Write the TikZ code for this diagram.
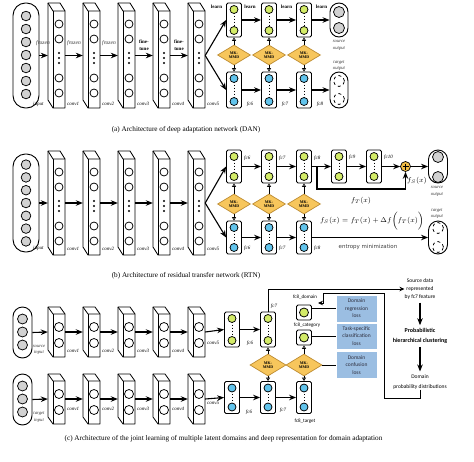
\documentclass[tikz,border=0pt]{standalone}
\usepackage{fontspec}
\setmainfont{Liberation Serif}
\newfontfamily\calib{Carlito}
\newfontfamily\djv{DejaVu Sans}
\usetikzlibrary{arrows.meta,shapes.geometric,calc}
\definecolor{ingray}{RGB}{210,210,210}
\definecolor{lgreen}{RGB}{212,236,104}
\definecolor{lblue}{RGB}{98,196,236}
\definecolor{dfill}{RGB}{247,198,92}
\definecolor{dline}{RGB}{190,140,50}
\definecolor{lossfill}{RGB}{155,190,226}
\definecolor{losstext}{RGB}{45,45,60}
\definecolor{plusfill}{RGB}{242,190,70}

\newcommand{\convbox}[5]{%
  \pgfmathsetmacro\cbh{#4-#3}%
  \pgfmathsetmacro\cbc{(#3+#4)/2}%
  \pgfmathsetmacro\cbx{#2+8.5}%
  \node[inner sep=0pt, minimum width=17pt, minimum height=\cbh pt] (#1) at (\cbx,\cbc) {};
  \draw[convline, fill=white] (#2,#3) -- ++(12,0) -- ++(5,#5) -- (#2+17,#4) -- ++(-12,0) -- ++(-5,-#5) -- cycle;
  \draw[convline] (#2,#3) -- ++(5,#5) -- ++(12,0);
  \draw[convline] (#2+5,#3+#5) -- (#2+5,#4);
}
\newcommand{\fcbox}[5]{%
  \node[fcb, minimum height=#4pt] (#1) at (#2,#3) {};
  \pgfmathsetmacro\fcoff{#4/2-6.5}%
  \draw[dotted, line width=1pt] (#2,#3-\fcoff) -- (#2,#3+\fcoff);
  \draw[circ, fill=#5] (#2,#3-\fcoff) circle (4pt);
  \draw[circ, fill=#5] (#2,#3+\fcoff) circle (4pt);
}

\tikzset{
  convline/.style={line width=0.8pt, line join=round},
  circ/.style={draw, line width=0.75pt, fill=white},
  capsule/.style={draw, line width=0.9pt, fill=white, inner sep=0pt},
  fcb/.style={draw, line width=0.8pt, rounded corners=1.5pt, fill=white, inner sep=0pt, minimum width=15pt},
  mmd/.style={diamond, draw=dline, fill=dfill, line width=0.7pt, inner sep=0pt, minimum width=33pt, minimum height=20pt, font=\fontsize{4}{4.6}\selectfont\bfseries, align=center},
  arr/.style={-{Stealth[length=7pt,width=5.5pt]}, line width=1.1pt},
  arrl/.style={-{Stealth[length=5pt,width=4.5pt]}, line width=0.8pt},
  tri/.style={-{Triangle[open,length=3.5pt,width=4pt]}, line width=0.7pt},
  lab/.style={font=\fontsize{5}{6}\selectfont\itshape, inner sep=0pt},
  labi/.style={font=\fontsize{5.5}{6}\selectfont\itshape, inner sep=0pt, text=black!80},
  labb/.style={font=\fontsize{5}{6.5}\selectfont\bfseries, inner sep=0pt, align=center},
  labo/.style={font=\fontsize{4.7}{6.5}\selectfont\itshape, inner sep=0pt, align=center, text=black!80},
  capt/.style={font=\fontsize{7.2}{8}\selectfont, inner sep=0pt},
  mathl/.style={font=\fontsize{7}{8}\selectfont, inner sep=0pt},
  sans/.style={font=\calib\fontsize{5.5}{8}\selectfont, inner sep=0pt, align=center},
  lossbox/.style={fill=lossfill, draw=white, line width=0.8pt, minimum width=41pt, inner sep=0pt, align=center, font=\calib\fontsize{5.5}{7.6}\selectfont, text=losstext},
  cfont/.style={font=\calib\fontsize{5}{6}\selectfont, inner sep=0pt},
}

\begin{document}
\begin{tikzpicture}[x=1pt,y=-1pt]
\fill[white] (0,0) rectangle (474,461);
\useasboundingbox (0,0) rectangle (474,461);

%%%%%%%%%%%%%%%% (a) DAN
\node[capsule, minimum width=26pt, minimum height=105pt, rounded corners=12.5pt] (ain) at (26,55.5) {};
\foreach \i in {0,...,6} \draw[circ, fill=ingray] (26,16+13*\i) circle (4.8pt);
\node[lab, anchor=west] (ainl) at (33,104) {input};
\foreach \n/\x in {1/48,2/83,3/118,4/153,5/188}{
  \convbox{a\n}{\x}{3}{108}{8}
  \foreach \yy in {24,39,78,93} \draw[circ] (\x+11,\yy) circle (4pt);
  \foreach \yy in {53,58,63} \fill (\x+11,\yy) circle (1.2pt);
  \node[lab, anchor=west] (a\n lab) at (\x+19,104) {conv\n};
}
\draw[arr] (ain.east) -- (a1.west);
\foreach \p/\q in {1/2,2/3,3/4,4/5} \draw[arr] (a\p.east) -- (a\q.west);
\node[labi] (fz1) at (43,43) {frozen};
\node[labi] (fz2) at (74,43) {frozen};
\node[labi] (fz3) at (109,43) {frozen};
\node[labb] (ft1) at (144,45.5) {fine-\\tune};
\node[labb] (ft2) at (179,45.5) {fine-\\tune};

\fcbox{a6g}{234}{20}{34}{lgreen}
\fcbox{a7g}{269}{20}{34}{lgreen}
\fcbox{a8g}{304}{20}{34}{lgreen}
\fcbox{a6b}{234}{90}{36}{lblue}
\fcbox{a7b}{269}{90}{36}{lblue}
\fcbox{a8b}{304}{90}{36}{lblue}
\node[capsule, minimum width=18pt, minimum height=34pt, rounded corners=9pt] (aso) at (339,20) {};
\draw[circ, fill=ingray] (339,12) circle (5.5pt);
\draw[circ, fill=ingray] (339,28) circle (5.5pt);
\node[capsule, minimum width=18pt, minimum height=36pt, rounded corners=9pt] (ato) at (339,90) {};
\draw[circ, dashed] (339,81) circle (5.5pt);
\draw[circ, dashed] (339,99) circle (5.5pt);
\node[mmd] (am1) at (234,55) {MK-\\MMD};
\node[mmd] (am2) at (269,55) {MK-\\MMD};
\node[mmd] (am3) at (304,55) {MK-\\MMD};
\draw[arr] (a5.east) -- (a6g.west);
\draw[arr] (a5.east) -- (a6b.west);
\draw[arr] (a6g) -- (a7g);
\draw[arr] (a7g) -- (a8g);
\draw[arr] (a8g) -- (aso);
\draw[arr] (a6b) -- (a7b);
\draw[arr] (a7b) -- (a8b);
\draw[arr] (a8b) -- (ato);
\draw[tri] (am1.north) -- (a6g.south);
\draw[tri] (am1.south) -- (a6b.north);
\draw[tri] (am2.north) -- (a7g.south);
\draw[tri] (am2.south) -- (a7b.north);
\draw[tri] (am3.north) -- (a8g.south);
\draw[tri] (am3.south) -- (a8b.north);
\node[labb] (le1) at (216.5,7) {learn};
\node[labb] (le2) at (250,7) {learn};
\node[labb] (le3) at (286.5,7) {learn};
\node[labb] (le4) at (321.5,7) {learn};
\node[lab] (af6) at (250,104) {fc6};
\node[lab] (af7) at (285,104) {fc7};
\node[lab] (af8) at (320,104) {fc8};
\node[labo] (asol) at (339,45.5) {source\\output};
\node[labo] (atol) at (339,65.5) {target\\output};
\node[capt] (capa) at (186,130) {(a) Architecture of deep adaptation network (DAN)};

%%%%%%%%%%%%%%%% (b) RTN
\node[capsule, minimum width=26pt, minimum height=98pt, rounded corners=12.5pt] (bin) at (26,203) {};
\foreach \i in {0,...,6} \draw[circ, fill=ingray] (26,164.6+12.8*\i) circle (4.8pt);
\node[lab, anchor=west] (binl) at (33,248) {input};
\foreach \n/\x in {1/48,2/83,3/118,4/153,5/188}{
  \convbox{b\n}{\x}{151}{255}{8}
  \foreach \yy in {172,187,226,241} \draw[circ] (\x+11,\yy) circle (4pt);
  \foreach \yy in {201,206,211} \fill (\x+11,\yy) circle (1.2pt);
  \node[lab, anchor=west] (b\n lab) at (\x+19,249) {conv\n};
}
\draw[arr] (bin.east) -- (b1.west);
\foreach \p/\q in {1/2,2/3,3/4,4/5} \draw[arr] (b\p.east) -- (b\q.west);
\fcbox{b6g}{234}{166.5}{33}{lgreen}
\fcbox{b7g}{269}{166.5}{33}{lgreen}
\fcbox{b8g}{304}{166.5}{33}{lgreen}
\fcbox{b9}{339}{166.5}{33}{lgreen}
\fcbox{b10}{374}{166.5}{33}{lgreen}
\fcbox{b6b}{234}{237.5}{33}{lblue}
\fcbox{b7b}{269}{237.5}{33}{lblue}
\fcbox{b8b}{304}{237.5}{33}{lblue}
\node[circle, draw, fill=plusfill, minimum size=10pt, inner sep=0pt, line width=0.7pt] (bplus) at (405.5,166.5) {};
\draw[line width=0.8pt] ($(bplus.center)+(-3,0)$) -- ($(bplus.center)+(3,0)$);
\draw[line width=0.8pt] ($(bplus.center)+(0,-3)$) -- ($(bplus.center)+(0,3)$);
\node[capsule, minimum width=19pt, minimum height=33pt, rounded corners=9.5pt] (bso) at (438,166.5) {};
\draw[circ, fill=ingray] (438,157) circle (5.5pt);
\draw[circ, fill=ingray] (438,177) circle (5.5pt);
\node[capsule, minimum width=19pt, minimum height=33pt, rounded corners=9.5pt] (bto) at (438,237.5) {};
\draw[circ, dashed] (438,228) circle (5.5pt);
\draw[circ, dashed] (438,247) circle (5.5pt);
\node[mmd] (bm1) at (234,204) {MK-\\MMD};
\node[mmd] (bm2) at (269,204) {MK-\\MMD};
\node[mmd] (bm3) at (304,204) {MK-\\MMD};
\draw[arr] (b5.east) -- (b6g.west);
\draw[arr] (b5.east) -- (b6b.west);
\draw[arr] (b6g) -- (b7g);
\draw[arr] (b7g) -- (b8g);
\draw[arr] (b8g) -- (b9);
\draw[arr] (b9) -- (b10);
\draw[arr] (b10) -- (bplus);
\draw[arr] (bplus) -- (bso);
\draw[arr] (b6b) -- (b7b);
\draw[arr] (b7b) -- (b8b);
\draw[arr] (b8b) -- (bto);
\coordinate (bsk) at (317,166.5);
\draw[arr] (bsk) -- ++(0,22.5) -| (bplus.south);
\draw[tri] (bm1.north) -- (b6g.south);
\draw[tri] (bm1.south) -- (b6b.north);
\draw[tri] (bm2.north) -- (b7g.south);
\draw[tri] (bm2.south) -- (b7b.north);
\draw[tri] (bm3.north) -- (b8g.south);
\draw[tri] (bm3.south) -- (b8b.north);
\node[lab, anchor=west] (bf6) at (244,158) {fc6};
\node[lab, anchor=west] (bf7) at (279,158) {fc7};
\node[lab, anchor=west] (bf8) at (314,158) {fc8};
\node[lab, anchor=west] (bf9) at (349,157) {fc9};
\node[lab, anchor=west] (bf10) at (384,157) {fc10};
\node[lab, anchor=west] (bf6b) at (244,248) {fc6};
\node[lab, anchor=west] (bf7b) at (279,248) {fc7};
\node[lab, anchor=west] (bf8b) at (314,248) {fc8};
\node[mathl] (bft) at (361,201) {$f_T(x)$};
\node[mathl] (bfs) at (417,181) {$f_S(x)$};
\node[mathl] (bform) at (372,221) {$f_S(x)=f_T(x)+\Delta f\big(f_T(x)\big)$};
\node[font=\djv\fontsize{5.5}{6}\selectfont, text=black!75, inner sep=0pt] (bent) at (368,247) {entropy minimization};
\node[labo] (bsol) at (437,191.5) {source\\output};
\node[labo] (btol) at (437,213.5) {target\\output};
\node[capt] (capb) at (186,276) {(b) Architecture of residual transfer network (RTN)};

%%%%%%%%%%%%%%%% (c)
\node[capsule, minimum width=19pt, minimum height=51pt, rounded corners=9.5pt] (csi) at (22.5,332.5) {};
\foreach \yy in {319,332,345} \draw[circ, fill=ingray] (22.5,\yy) circle (5pt);
\node[labo] (csil) at (39,350) {source\\input};
\node[capsule, minimum width=19pt, minimum height=51pt, rounded corners=9.5pt] (cti) at (22.5,399.5) {};
\foreach \yy in {386,399,412} \draw[circ, fill=ingray] (22.5,\yy) circle (5pt);
\node[labo] (ctil) at (39,417) {target\\input};
\foreach \n/\x/\ys/\yt in {1/48/351/409,2/83/351/409,3/118/351/409,4/153/351/409,5/188/343/403}{
  \convbox{cs\n}{\x}{307}{357}{7}
  \foreach \yy in {327,343} \draw[circ] (\x+11,\yy) circle (4.5pt);
  \node[lab, anchor=west] (cs\n lab) at (\x+19,\ys) {conv\n};
  \convbox{ct\n}{\x}{374}{424}{7}
  \foreach \yy in {394,410} \draw[circ] (\x+11,\yy) circle (4.5pt);
  \node[lab, anchor=west] (ct\n lab) at (\x+19,\yt) {conv\n};
}
\draw[arr] (csi.east) -- (cs1.west);
\draw[arr] (cti.east) -- (ct1.west);
\foreach \p/\q in {1/2,2/3,3/4,4/5} {\draw[arr] (cs\p.east) -- (cs\q.west); \draw[arr] (ct\p.east) -- (ct\q.west);}
\fcbox{cs6}{232}{329.5}{35}{lgreen}
\fcbox{cs7}{268}{329.5}{35}{lgreen}
\fcbox{ct6}{232}{397.5}{32}{lblue}
\fcbox{ct7}{268}{397.5}{32}{lblue}
\fcbox{ct8}{304}{397.5}{32}{lblue}
\node[fcb, minimum width=15pt, minimum height=15pt] (fcd) at (304,312.5) {};
\draw[circ, fill=lgreen] (304,312.5) circle (4.5pt);
\node[fcb, minimum width=15pt, minimum height=15pt] (fcc) at (304,337.5) {};
\draw[circ, fill=lgreen] (304,337.5) circle (4.5pt);
\node[cfont] (fcdl) at (305,297) {fc8\_domain};
\node[cfont] (fccl) at (307,325) {fc8\_category};
\node[cfont] (fctl) at (305,421) {fc8\_target};
\node[mmd, minimum width=36pt, minimum height=22pt] (cm1) at (268,365) {MK-\\MMD};
\node[mmd, minimum width=36pt, minimum height=22pt] (cm2) at (304,365) {MK-\\MMD};
\draw[arr] (cs5.east) -- (cs6.west);
\draw[arr] (ct5.east) -- (ct6.west);
\draw[arr] (cs6) -- (cs7);
\draw[arr] (ct6) -- (ct7);
\draw[arr] (ct7) -- (ct8);
\draw[tri] (cm1.north) -- (cs7.south);
\draw[tri] (cm1.south) -- (ct7.north);
\draw[tri] (cm2.north) -- (fcc.south);
\draw[tri] (cm2.south) -- (ct8.north);
\node[lab] (cf6) at (250,343) {fc6};
\node[lab] (cf7) at (274,306) {fc7};
\node[lab] (cf6b) at (249,412) {fc6};
\node[lab] (cf7b) at (283,410) {fc7};

\node[lossbox, minimum height=27pt] (lossA) at (356.5,308.5) {Domain\\regression\\loss};
\node[lossbox, minimum height=26pt] (lossB) at (356.5,336) {Task-specific\\classification\\loss};
\node[lossbox, minimum height=27pt] (lossC) at (356.5,365) {Domain\\confusion\\loss};
\draw[line width=0.8pt] (lossA.west) -- (lossA.west -| fcd.east);
\draw[line width=0.8pt] (lossB.west) -- (lossB.west -| fcc.east);
\draw[line width=0.8pt] (lossC.west) -- (cm2.east);

\node[sans] (srcd) at (420,289) {Source data\\represented\\by fc7 feature};
\node[sans, font=\calib\fontsize{6}{10}\selectfont\bfseries] (phc) at (420,336) {Probabilistic\\hierarchical clustering};
\node[sans, font=\calib\fontsize{5.5}{10}\selectfont] (dpd) at (420,382) {Domain\\probability distributions};
\draw[arr, shorten <=3pt, shorten >=3pt] (srcd) -- (phc);
\draw[arr, shorten <=3pt, shorten >=3pt] (phc) -- (dpd);
\draw[arrl] (cs7.north) |- (srcd.west);
\coordinate (lp1) at (384,293);
\coordinate (lp2) at (323,293);
\coordinate (dend) at (318,303);
\draw[arrl] (dpd.south) -- ++(0,9) -| (lp1) -- (lp2) |- (dend);

\node[capt] (capc) at (223.5,439) {(c) Architecture of the joint learning of multiple latent domains and deep representation for domain adaptation};
\end{tikzpicture}
\end{document}
